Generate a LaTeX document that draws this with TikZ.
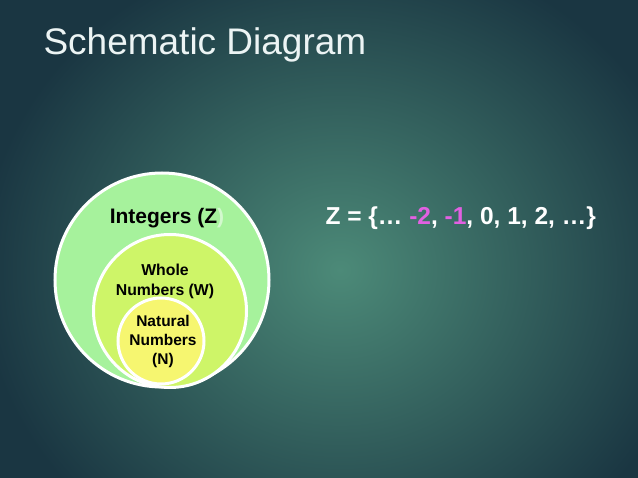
\documentclass[tikz,border=0pt]{standalone}
\usepackage{fontspec}
\setmainfont{Liberation Sans}
\usetikzlibrary{positioning}
\definecolor{bgcenter}{RGB}{76,138,120}
\definecolor{bgedge}{RGB}{26,54,66}
\definecolor{intgreen}{RGB}{166,242,156}
\definecolor{wholegreen}{RGB}{206,245,104}
\definecolor{natyellow}{RGB}{246,246,112}
\definecolor{negpink}{RGB}{226,96,226}
\definecolor{titlewhite}{RGB}{236,244,244}
\tikzset{
  basic/.style  = {circle, draw=white, line width=3pt, inner sep=0pt},
  integers/.style = {basic, fill=intgreen, minimum size=214pt},
  whole/.style = {basic, fill=wholegreen, minimum size=153pt},
  natural/.style = {basic, fill=natyellow, minimum size=86pt},
  label/.style = {font=\bfseries, align=center, text=black}
}

\begin{document}
\begin{tikzpicture}[x=1pt, y=-1pt]
\useasboundingbox (0,0) rectangle (638,478);

% background
\shade[inner color=bgcenter, outer color=bgedge] (-20,-60) rectangle (700,600);

% title
\node[anchor=west, text=titlewhite, font=\fontsize{37}{42}\selectfont] (title) at (40,45) {Schematic Diagram};

% the nested sets
\node[integers] (z) at (162,280) {};
\node[whole] (w) at (170,311) {};
\node[natural] (n) at (161,341) {};

\node[label, font=\fontsize{21}{24}\selectfont\bfseries] (zlab) at (167,218) {Integers (Z\textcolor{intgreen!50!white}{)}};
\node[label, font=\fontsize{15.8}{20}\selectfont\bfseries] (wlab) at (165,281) {Whole\\Numbers (W)};
\node[label, font=\fontsize{15.5}{19}\selectfont\bfseries] (nlab) at (163,341) {Natural\\Numbers\\(N)};

% the set itself
\node[anchor=west, text=white, font=\fontsize{24.5}{28}\selectfont\bfseries] (zset) at (322,218)
  {Z = \{\dots{} \textcolor{negpink}{-2}, \textcolor{negpink}{-1}, 0, 1, 2, \dots\}};

\end{tikzpicture}
\end{document}
